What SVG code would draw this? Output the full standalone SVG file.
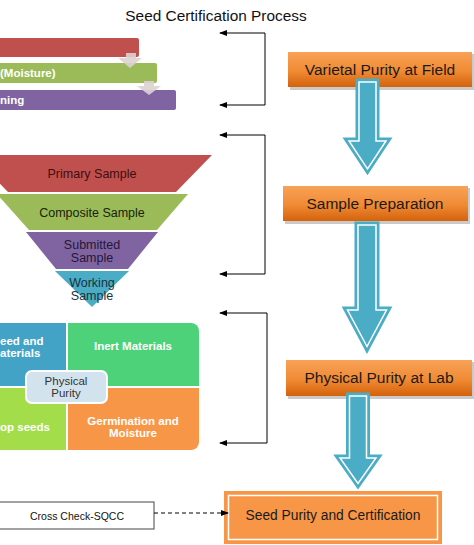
<svg xmlns="http://www.w3.org/2000/svg" width="474" height="545" viewBox="0 0 474 545">
<defs>
<linearGradient id="og" x1="0" y1="0" x2="0" y2="1">
<stop offset="0" stop-color="#f8a258"/>
<stop offset="0.55" stop-color="#f08a33"/>
<stop offset="1" stop-color="#d4620c"/>
</linearGradient>
<marker id="ah" markerWidth="8" markerHeight="6" refX="7" refY="3" orient="auto" markerUnits="userSpaceOnUse">
<path d="M0,0 L8,3 L0,6 Z" fill="#000"/>
</marker>
<style>
text{font-family:"Liberation Sans",Arial,sans-serif}
.ttl{font-size:15.4px;fill:#111}
.bar{font-size:11.5px;font-weight:bold;fill:#fff}
.fn{font-size:12.5px;text-anchor:middle}
.pp{font-size:11.5px;text-anchor:middle}
.mx{font-size:11.5px;font-weight:bold;fill:#fff;text-anchor:middle}
.mxl{font-size:11.5px;font-weight:bold;fill:#fff}
.ob{font-size:15.5px;fill:#1a1a1a;text-anchor:middle}
.ob2{font-size:13.8px;fill:#1a1a1a;text-anchor:middle}
.shadow{fill:#8a8a8a;opacity:0.45}
.arrow{fill:#4bacc6;stroke:#4bacc6;stroke-width:7;stroke-linejoin:miter}
.arrowin{fill:#4bacc6;stroke:#fff;stroke-width:1.5;stroke-linejoin:miter}
.con{fill:none;stroke:#000;stroke-width:1}
.gray{fill:#ddd2d2;opacity:0.9}
</style>
</defs>
<rect width="474" height="545" fill="#fff"/>
<text class="ttl" x="216" y="21" text-anchor="middle">Seed Certification Process</text>

<g id="stages-bars">
<rect x="-10" y="38" width="149" height="19" rx="2" fill="#c0504d"/>
<rect x="-10" y="63" width="167" height="20" rx="2" fill="#9bbb59"/>
<rect x="-10" y="90" width="186" height="20" rx="2" fill="#8064a2"/>
<path class="gray" d="M126,53 H136 V58 H142 L130,68 L118,58 H126 Z"/>
<path class="gray" d="M144,81 H154 V86 H161 L149,95 L137,86 H144 Z"/>
<text class="bar" x="0" y="77">(Moisture)</text>
<text class="bar" x="0" y="104">ning</text>
</g>

<g id="funnel">
<polygon points="-28,155 212,155 176,192 8,192" fill="#c0504d"/>
<polygon points="-3,194 188,194 157,230 29,230" fill="#9bbb59"/>
<polygon points="26,232 158,232 128,269 56,269" fill="#8064a2"/>
<polygon points="55,271 129,271 92,307" fill="#4bacc6"/>
<text class="fn" x="92" y="177.5" fill="#3e0e0e">Primary Sample</text>
<text class="fn" x="92" y="216.5" fill="#18220b">Composite Sample</text>
<text class="fn" x="92" y="248.5" fill="#231838">Submitted</text>
<text class="fn" x="92" y="261.5" fill="#231838">Sample</text>
<text class="fn" x="92" y="286.5" fill="#16323f">Working</text>
<text class="fn" x="92" y="299.5" fill="#16323f">Sample</text>
</g>

<g id="physical-matrix">
<rect x="-10" y="323" width="76" height="63" fill="#42a3c7"/>
<path d="M68,323 H191 A8,8 0 0 1 199,331 V386 H68 Z" fill="#4dd27a"/>
<rect x="-10" y="388" width="76" height="62" fill="#a3de4a"/>
<path d="M68,388 H199 V442 A8,8 0 0 1 191,450 H68 Z" fill="#f79646"/>
<text class="mxl" x="0" y="345">eed and</text>
<text class="mxl" x="0" y="356.5">aterials</text>
<text class="mxl" x="0" y="431">op seeds</text>
<text class="mx" x="133" y="350">Inert Materials</text>
<text class="mx" x="133" y="425">Germination and</text>
<text class="mx" x="133" y="437">Moisture</text>
<rect x="26" y="371" width="81" height="32" rx="6" fill="#d3e3ed" stroke="#fff" stroke-width="2"/>
<text class="pp" x="66" y="385" fill="#333">Physical</text>
<text class="pp" x="66" y="397" fill="#333">Purity</text>
</g>

<g id="varietal-purity">
<rect class="shadow" x="290" y="54" width="184" height="36"/>
<rect x="288" y="52" width="184" height="35" fill="url(#og)"/>
<text class="ob" x="380" y="74.5">Varietal Purity at Field</text>
</g>

<g id="sample-preparation">
<rect class="shadow" x="285" y="188" width="185" height="36"/>
<rect x="283" y="186" width="185" height="35" fill="url(#og)"/>
<text class="ob" x="375" y="208.5">Sample Preparation</text>
</g>

<g id="physical-purity-lab">
<rect class="shadow" x="288" y="362" width="186" height="37"/>
<rect x="286" y="360" width="186" height="36" fill="url(#og)"/>
<text class="ob" x="379" y="383">Physical Purity at Lab</text>
</g>

<g id="seed-purity-certification">
<rect x="224" y="491" width="218" height="53" fill="#f79646"/>
<rect x="228.5" y="495.5" width="209" height="44" fill="none" stroke="#fff" stroke-width="1.5"/>
<text class="ob2" x="333" y="520">Seed Purity and Certification</text>
</g>

<g id="cross-check">
<rect x="-5" y="502" width="159" height="27" fill="#fff" stroke="#444" stroke-width="1"/>
<text x="77" y="519.5" font-size="10.5" fill="#111" text-anchor="middle">Cross Check-SQCC</text>
</g>

<g id="flow-arrows">
<path class="arrow" d="M359,82 H376 V141 H386 L367.5,169 L349,141 H359 Z"/>
<path class="arrowin" d="M359,82 H376 V141 H386 L367.5,169 L349,141 H359 Z"/>
<path class="arrow" d="M358,225 H376 V310 H386.5 L367,346.5 L347.5,310 H358 Z"/>
<path class="arrowin" d="M358,225 H376 V310 H386.5 L367,346.5 L347.5,310 H358 Z"/>
<path class="arrow" d="M349.5,396 H366.5 V458 H376 L358,483.5 L340,458 H349.5 Z"/>
<path class="arrowin" d="M349.5,396 H366.5 V458 H376 L358,483.5 L340,458 H349.5 Z"/>
</g>

<g id="connectors">
<path class="con" d="M265,33 V105"/>
<line class="con" x1="265" y1="33" x2="220" y2="33" marker-end="url(#ah)"/>
<line class="con" x1="265" y1="105" x2="220" y2="105" marker-end="url(#ah)"/>
<path class="con" d="M265,135 V274"/>
<line class="con" x1="265" y1="135" x2="220" y2="135" marker-end="url(#ah)"/>
<line class="con" x1="265" y1="274" x2="220" y2="274" marker-end="url(#ah)"/>
<path class="con" d="M267,313 V443"/>
<line class="con" x1="267" y1="313" x2="220" y2="313" marker-end="url(#ah)"/>
<line class="con" x1="267" y1="443" x2="220" y2="443" marker-end="url(#ah)"/>
<line class="con" x1="154" y1="513" x2="228" y2="513" stroke-dasharray="4,3" marker-end="url(#ah)"/>
</g>
</svg>
